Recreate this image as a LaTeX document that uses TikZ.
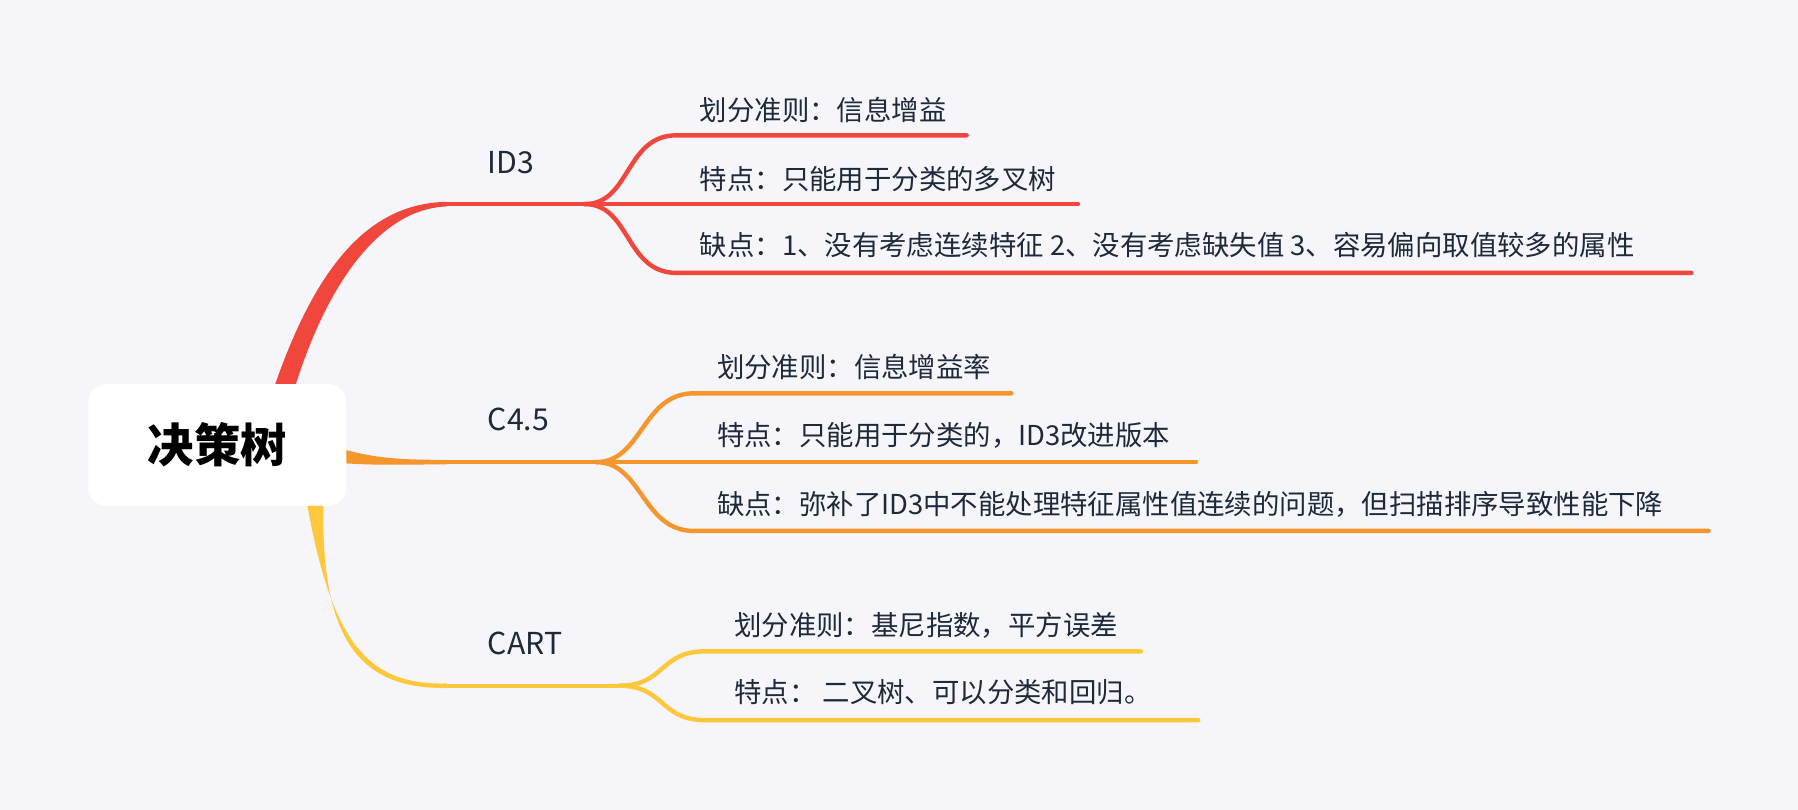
\documentclass[tikz,border=0pt]{standalone}
\usepackage{fontspec}
\setmainfont{Noto Sans CJK SC}
\definecolor{bg}{HTML}{F5F5FA}
\definecolor{cr}{HTML}{F0463C}
\definecolor{co}{HTML}{F5962D}
\definecolor{cy}{HTML}{FFC83C}
\definecolor{tx}{HTML}{1E2A3A}
\begin{document}
\begin{tikzpicture}[x=0.02cm,y=-0.02cm,
  lbl/.style={anchor=west,inner sep=0,text=tx,font=\fontsize{13.6pt}{16pt}\selectfont},
  top/.style={anchor=west,inner sep=0,text=tx,font=\fontsize{15pt}{18pt}\selectfont},
  ln/.style={line width=2.2pt,line cap=round}]
\fill[bg] (0,0) rectangle (1568,706);
\useasboundingbox (0,0) rectangle (1568,706);
% root branches (tapered)
\fill[cr] (240,335) .. controls (275,235) and (320,177) .. (390,176) -- (390,180) .. controls (330,182) and (285,250) .. (258,335) -- cycle;
\fill[co] (300,392) .. controls (330,400) and (350,401) .. (390,401) -- (390,405) .. controls (350,405) and (330,406) .. (300,404) -- cycle;
\fill[cy] (268,441) .. controls (290,560) and (320,598) .. (390,596) -- (390,600) .. controls (315,601) and (280,560) .. (282,441) -- cycle;
\fill[white,rounded corners=9pt] (77,335) rectangle (302,441);
\node[inner sep=0,font=\fontsize{23pt}{27pt}\selectfont\bfseries] (rt) at (189.5,388) {决策树};
% ID3
\coordinate (a0) at (390,178); \coordinate (a1) at (510,178);
\draw[cr,ln] (a0) -- (a1);
\node[top] (id3) at (425,142) {ID3};
\draw[cr,ln] (a1) .. controls (550,178) and (545,118) .. (590,118) -- (843,118);
\draw[cr,ln] (a1) -- (940,178);
\draw[cr,ln] (a1) .. controls (550,178) and (545,238) .. (590,238) -- (1475,238);
\node[lbl] (a1t) at (610,96) {划分准则：信息增益};
\node[lbl] (a2t) at (610,156) {特点：只能用于分类的多叉树};
\node[lbl] (a3t) at (610,214) {缺点：1、没有考虑连续特征 2、没有考虑缺失值 3、容易偏向取值较多的属性};
% C4.5
\coordinate (b0) at (390,403); \coordinate (b1) at (520,403);
\draw[co,ln] (b0) -- (b1);
\node[top] (c45) at (425,366) {C4.5};
\draw[co,ln] (b1) .. controls (560,403) and (560,343) .. (605,343) -- (882,343);
\draw[co,ln] (b1) -- (1043,403);
\draw[co,ln] (b1) .. controls (560,403) and (560,463) .. (605,463) -- (1490,463);
\node[lbl] (b1t) at (625,320) {划分准则：信息增益率};
\node[lbl] (b2t) at (625,380) {特点：只能用于分类的，ID3改进版本};
\node[lbl] (b3t) at (625,440) {缺点：弥补了ID3中不能处理特征属性值连续的问题，但扫描排序导致性能下降};
% CART
\coordinate (c0) at (390,598); \coordinate (c1) at (540,598);
\draw[cy,ln] (c0) -- (c1);
\node[top] (cart) at (425,561) {CART};
\draw[cy,ln] (c1) .. controls (580,598) and (575,568) .. (615,568) -- (995,568);
\draw[cy,ln] (c1) .. controls (580,598) and (575,628) .. (615,628) -- (1045,628);
\node[lbl] (c1t) at (640,545) {划分准则：基尼指数，平方误差};
\node[lbl] (c2t) at (640,604) {特点： 二叉树、可以分类和回归。};
\end{tikzpicture}
\end{document}
